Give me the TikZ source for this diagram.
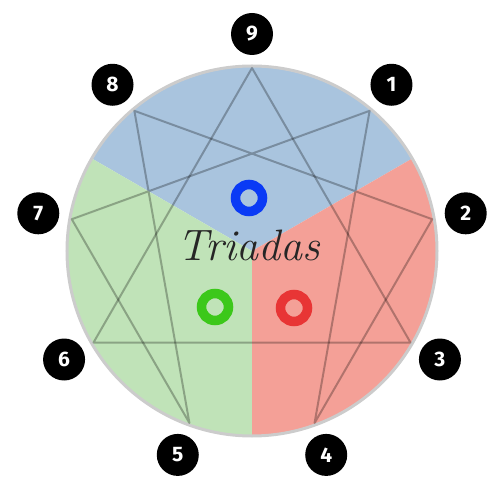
\documentclass[tikz,border=0pt]{standalone}
\usepackage{fontspec}
\setsansfont{Fira Sans}
\usepackage{tikz}

\definecolor{headblue}{HTML}{A9C4DE}
\definecolor{heartred}{HTML}{F4A097}
\definecolor{gutgreen}{HTML}{C0E3B8}
\definecolor{ringblue}{HTML}{0A3AF5}
\definecolor{ringred}{HTML}{E83535}
\definecolor{ringgreen}{HTML}{3CC81A}

\tikzset{
  numdot/.style={circle, fill=black, text=white, minimum size=42pt, inner sep=0pt,
    font=\sffamily\bfseries\fontsize{21}{23}\selectfont},
  centre ring/.style={circle, draw, line width=9.5pt, minimum size=27pt, inner sep=0pt},
  ennea line/.style={black, opacity=0.28, line width=2pt, line join=round}
}

\begin{document}
\begin{tikzpicture}[x=1pt, y=1pt]
  \def\R{184}
  \useasboundingbox (-252,-249) rectangle (248,251);

  % three triads
  \fill[headblue] (0,0) -- (30:\R) arc[start angle=30, end angle=150, radius=\R] -- cycle;
  \fill[gutgreen] (0,0) -- (150:\R) arc[start angle=150, end angle=270, radius=\R] -- cycle;
  \fill[heartred] (0,0) -- (270:\R) arc[start angle=270, end angle=390, radius=\R] -- cycle;
  \draw[black!20, line width=3pt] (0,0) circle (\R+1);

  % points and numbers
  \foreach \i/\a in {9/90,1/50,2/10,3/-30,4/-70,5/-110,6/-150,7/170,8/130} {
    \coordinate (p\i) at (\a:\R-1);
    \node[numdot] (n\i) at (\a:217) {\i};
  }

  % enneagram lines
  \draw[ennea line] (p9) -- (p3) -- (p6) -- cycle;
  \draw[ennea line] (p1) -- (p4) -- (p2) -- (p8) -- (p5) -- (p7) -- cycle;

  % rings
  \node[centre ring, draw=ringblue] (headring) at (-3,53) {};
  \node[centre ring, draw=ringgreen] (gutring) at (-37,-56) {};
  \node[centre ring, draw=ringred] (heartring) at (42,-57) {};

  % title
  \node[font=\itshape\fontsize{44}{48}\selectfont, text=black!85] (title) at (-3,6) {Triadas};
\end{tikzpicture}
\end{document}
